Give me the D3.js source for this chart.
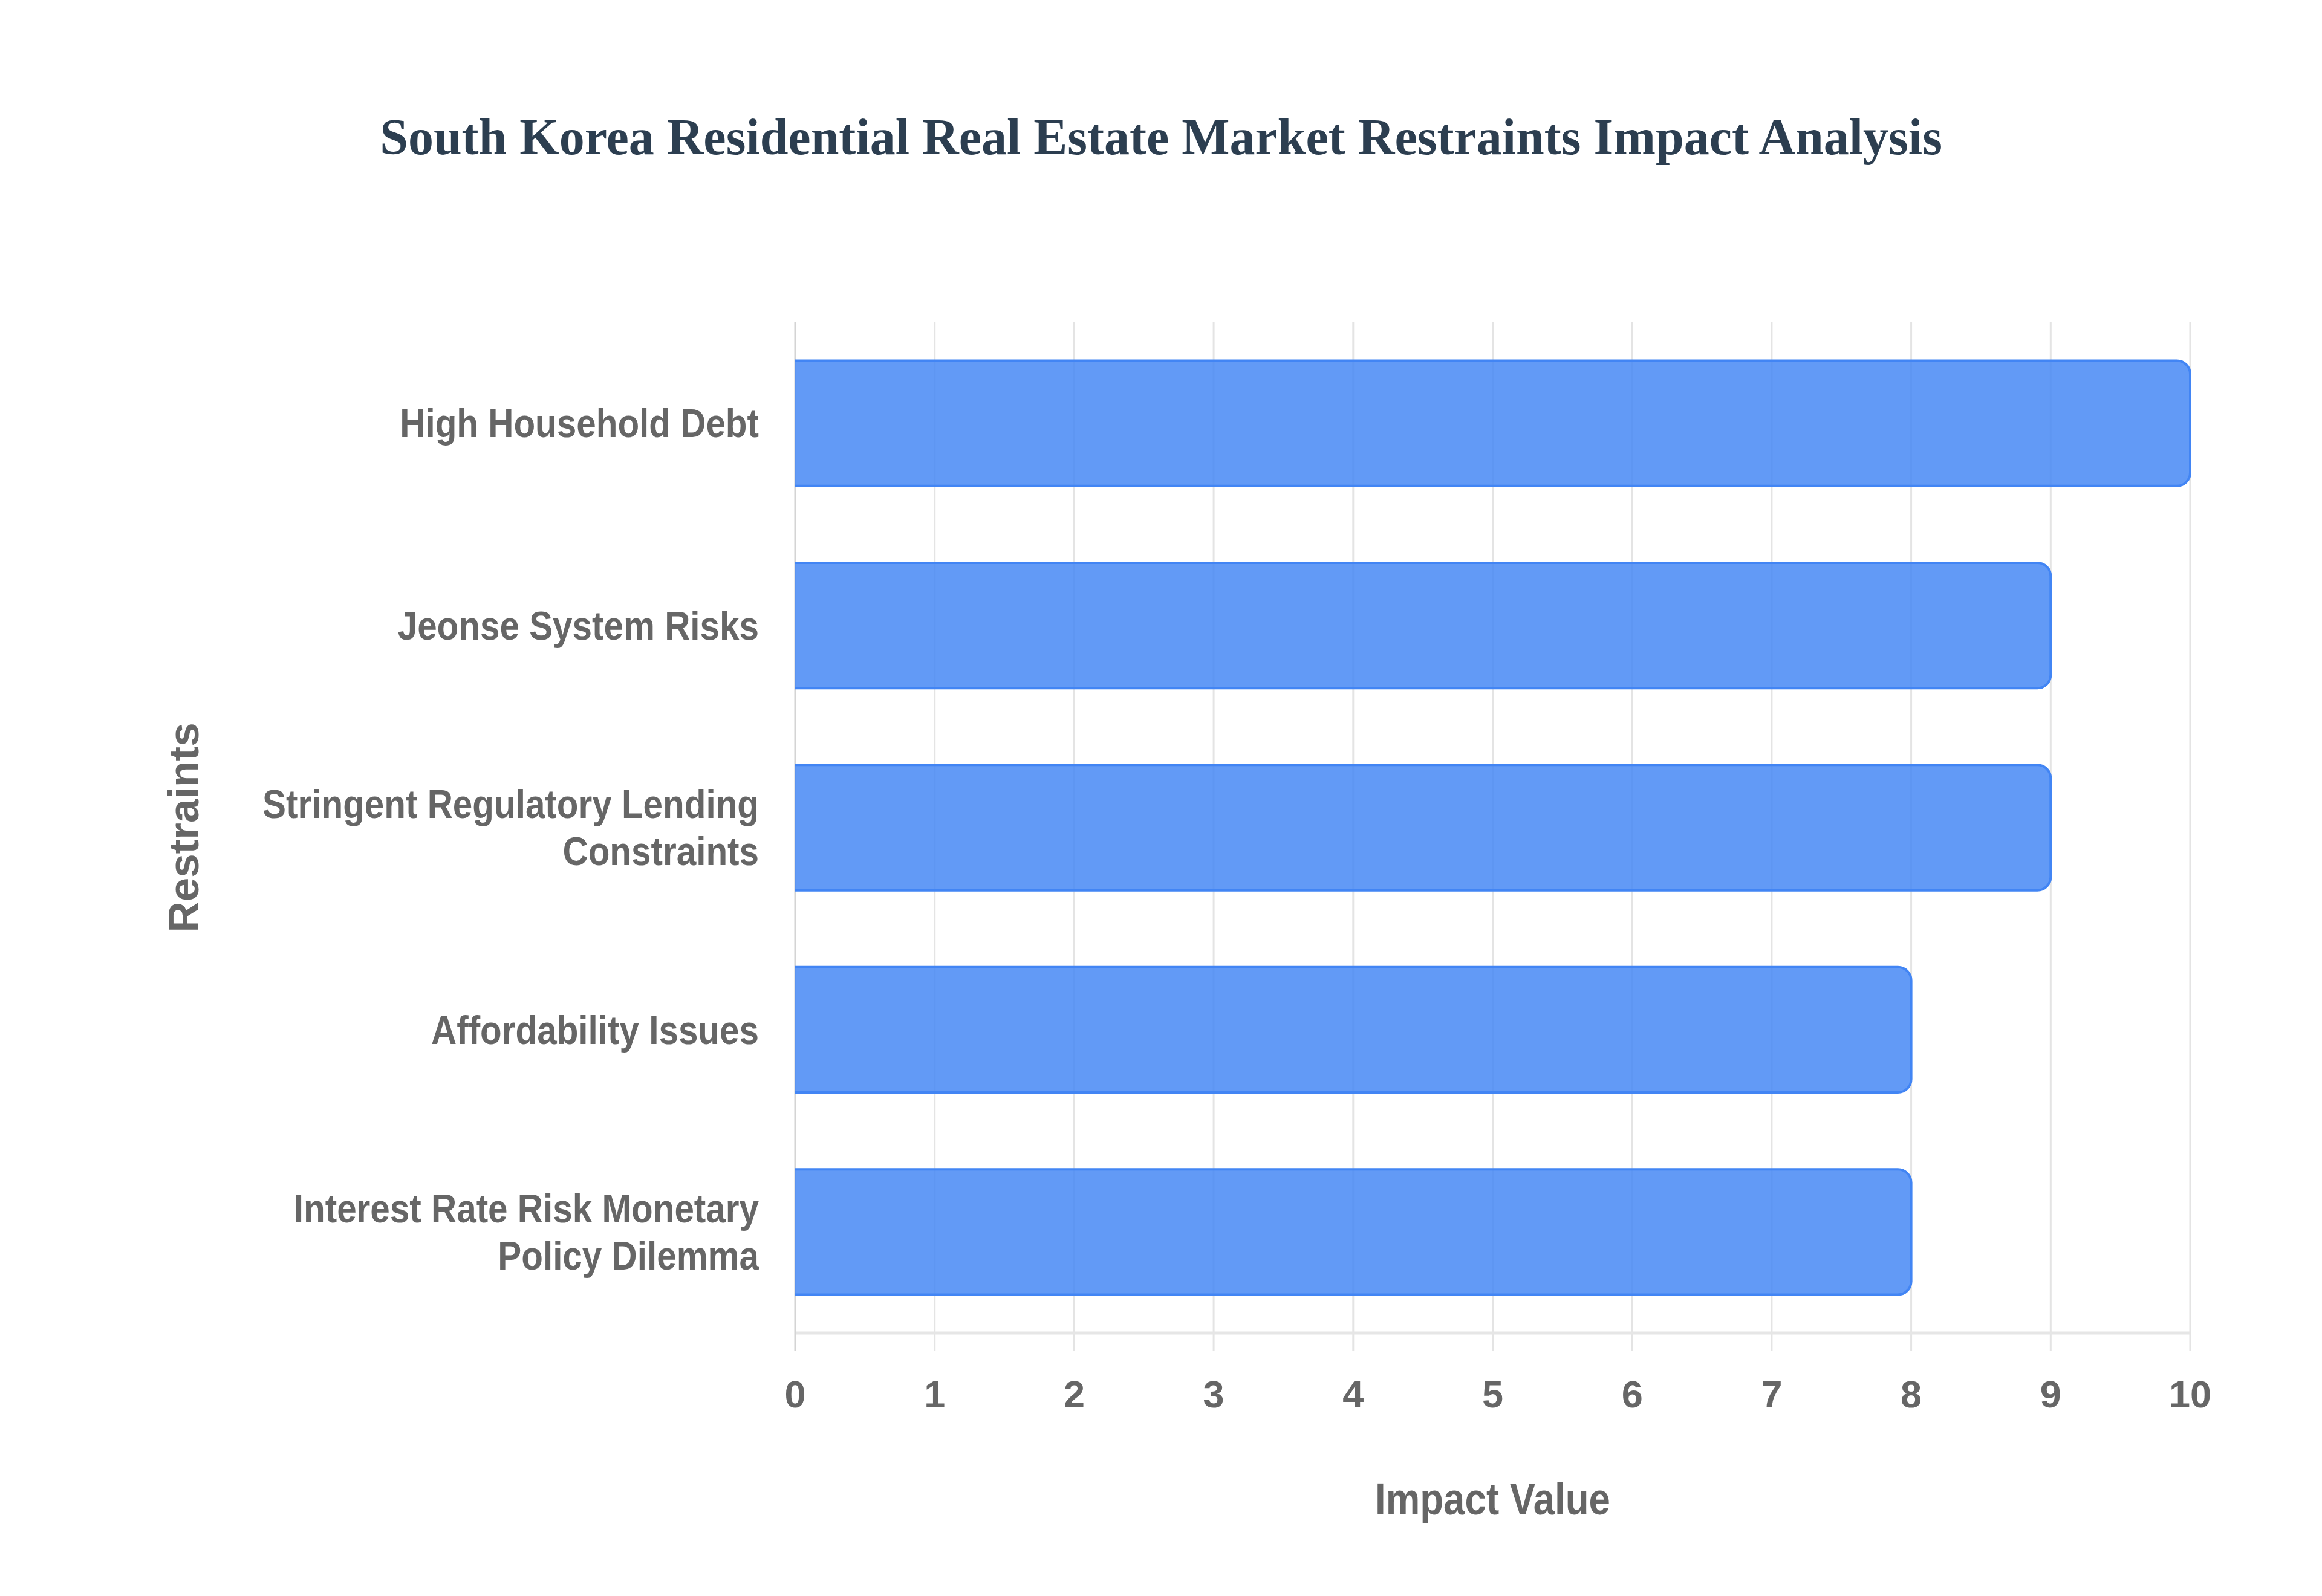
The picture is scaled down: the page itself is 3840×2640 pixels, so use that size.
<!DOCTYPE html>
<html>
<head>
<meta charset="utf-8">
<script src="https://cdn.jsdelivr.net/npm/d3@7"></script>
<style>
  body { margin: 0; background: #fff; }
  svg { display: block; }
</style>
</head>
<body>
<div id="chart"></div>
<script>
// Data
const categories = [
  'High Household Debt',
  'Jeonse System Risks',
  'Stringent Regulatory Lending Constraints',
  'Affordability Issues',
  'Interest Rate Risk Monetary Policy Dilemma'
];
const impactValues = [10, 9, 9, 8, 8];
const xTicks = [0, 1, 2, 3, 4, 5, 6, 7, 8, 9, 10];

const chartTitle = 'South Korea Residential Real Estate Market Restraints Impact Analysis';
const xTitle = 'Impact Value';
const yTitle = 'Restraints';

// Chart dimensions
const width = 3840,
      height = 2640,
      margin = {top: 533, right: 218, bottom: 435, left: 1315};

const sans = '"Liberation Sans", Arial, Helvetica, sans-serif';
const serif = '"Liberation Serif", "Times New Roman", serif';
const labelGray = '#666';

// Scales
const x = d3.scaleLinear()
    .domain([0, 10])
    .range([margin.left, width - margin.right]);

const y = d3.scaleBand()
    .domain(categories)
    .range([margin.top, height - margin.bottom])
    .paddingInner(0.38)
    .paddingOuter(0.19);

const svg = d3.select('#chart').append('svg')
    .attr('width', width)
    .attr('height', height)
    .attr('viewBox', `0 0 ${width} ${height}`);

svg.append('rect')
   .attr('width', width)
   .attr('height', height)
   .attr('fill', '#fff');

// Title
svg.append('text')
   .attr('x', width / 2)
   .attr('y', 255)
   .attr('text-anchor', 'middle')
   .attr('font-family', serif)
   .attr('font-weight', 'bold')
   .attr('font-size', 84)
   .attr('fill', '#2c3e50')
   .text(chartTitle);

const plotBottom = height - margin.bottom;

// Vertical grid lines, running a little past the axis as tick marks
svg.append('g')
   .attr('class', 'grid')
   .selectAll('line')
   .data(xTicks.slice(1))
   .join('line')
     .attr('x1', d => x(d))
     .attr('x2', d => x(d))
     .attr('y1', margin.top)
     .attr('y2', plotBottom + 30)
     .attr('stroke', '#e4e4e4')
     .attr('stroke-width', 3);

// Axis lines
svg.append('line')
   .attr('x1', x(0)).attr('x2', x(10))
   .attr('y1', plotBottom).attr('y2', plotBottom)
   .attr('stroke', '#e6e6e6')
   .attr('stroke-width', 5);

svg.append('line')
   .attr('x1', x(0)).attr('x2', x(0))
   .attr('y1', margin.top).attr('y2', plotBottom + 30)
   .attr('stroke', '#d4d4d4')
   .attr('stroke-width', 3);

// Bars with rounded right end, no border on the left edge
const r = 22;
function barShape(d, closed) {
  const x0 = x(0), x1 = x(d.value), y0 = y(d.name), h = y.bandwidth();
  const p = `M${x0},${y0} H${x1 - r} A${r},${r} 0 0 1 ${x1},${y0 + r} ` +
            `V${y0 + h - r} A${r},${r} 0 0 1 ${x1 - r},${y0 + h} H${x0}`;
  return closed ? p + ' Z' : p;
}

const bars = categories.map((name, i) => ({name, value: impactValues[i]}));

const barGroup = svg.append('g').attr('class', 'bars');

barGroup.selectAll('path.fill')
   .data(bars)
   .join('path')
     .attr('class', 'fill')
     .attr('d', d => barShape(d, true))
     .attr('fill', 'rgba(66,133,244,0.83)');

barGroup.selectAll('path.edge')
   .data(bars)
   .join('path')
     .attr('class', 'edge')
     .attr('d', d => barShape(d, false))
     .attr('fill', 'none')
     .attr('stroke', '#4285f4')
     .attr('stroke-width', 4);

// X tick labels
svg.append('g')
   .attr('class', 'x-ticks')
   .selectAll('text')
   .data(xTicks)
   .join('text')
     .attr('x', d => x(d))
     .attr('y', plotBottom + 123)
     .attr('text-anchor', 'middle')
     .attr('font-family', sans)
     .attr('font-weight', 'bold')
     .attr('font-size', 63)
     .attr('fill', labelGray)
     .text(d => d);

// Y category labels, wrapped into lines like the source (drawn a bit condensed)
const labelSize = 66, labelScale = 0.885, lineHeight = 78, maxLine = 960;

const yLabels = svg.append('g')
   .attr('class', 'y-labels')
   .selectAll('text')
   .data(categories)
   .join('text')
     .attr('text-anchor', 'end')
     .attr('font-family', sans)
     .attr('font-weight', 'bold')
     .attr('font-size', labelSize)
     .attr('fill', labelGray);

yLabels.each(function(name) {
  const t = d3.select(this);
  const words = name.split(' ');
  const lines = [];
  let line = [];
  // measure with a scratch tspan
  const probe = t.append('tspan');
  words.forEach(w => {
    const trial = line.concat(w).join(' ');
    probe.text(trial);
    if (line.length && probe.node().getComputedTextLength() > maxLine) {
      lines.push(line.join(' '));
      line = [w];
    } else {
      line.push(w);
    }
  });
  lines.push(line.join(' '));
  probe.remove();

  const cy = y(name) + y.bandwidth() / 2;
  t.attr('transform', `translate(1255,${cy}) scale(${labelScale},1)`);
  const first = -(lines.length - 1) * lineHeight / 2 + labelSize * 0.35;
  lines.forEach((l, i) => {
    t.append('tspan')
     .attr('x', 0)
     .attr('y', first + i * lineHeight)
     .text(l);
  });
});

// Axis titles
svg.append('text')
   .attr('transform', `translate(${(x(0) + x(10)) / 2},${plotBottom + 300}) scale(0.86,1)`)
   .attr('text-anchor', 'middle')
   .attr('font-family', sans)
   .attr('font-weight', 'bold')
   .attr('font-size', 74)
   .attr('fill', labelGray)
   .text(xTitle);

svg.append('text')
   .attr('transform', `translate(328,${(margin.top + plotBottom) / 2}) rotate(-90)`)
   .attr('text-anchor', 'middle')
   .attr('font-family', sans)
   .attr('font-weight', 'bold')
   .attr('font-size', 71)
   .attr('fill', labelGray)
   .text(yTitle);
</script>
</body>
</html>
